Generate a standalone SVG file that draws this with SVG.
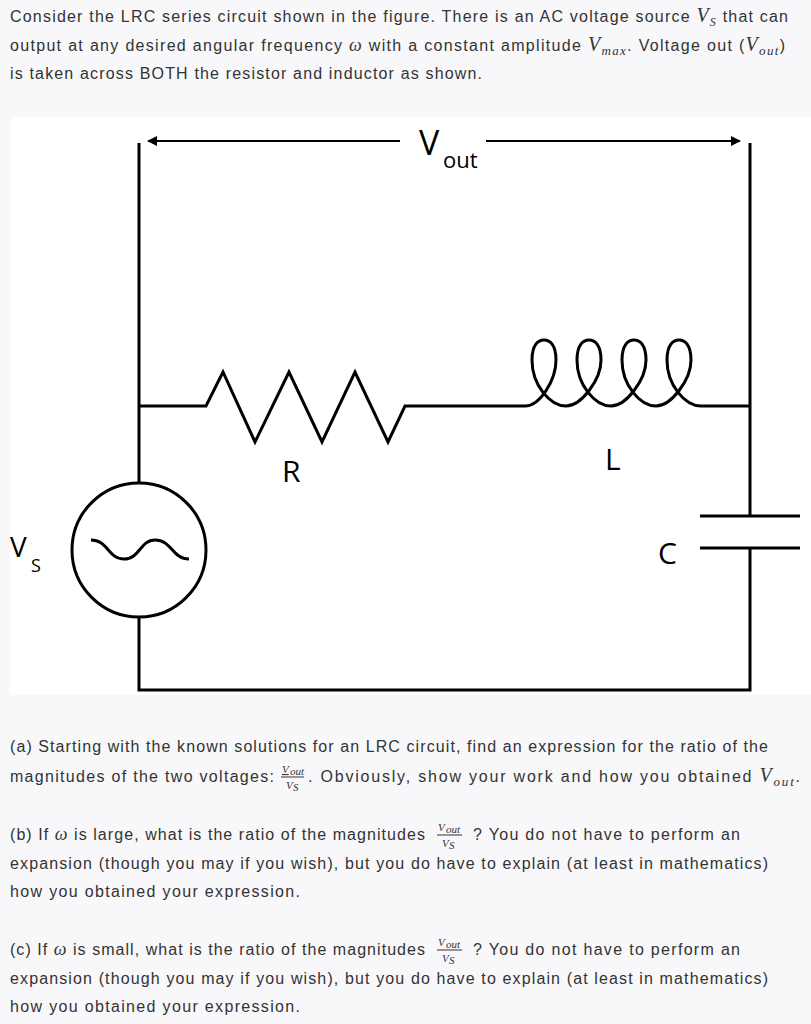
<svg xmlns="http://www.w3.org/2000/svg" width="811" height="1024" viewBox="0 0 811 1024">
<style>
.t{font-family:"Liberation Sans",Arial,sans-serif;font-size:16px;fill:#333}
.m{font-family:"Liberation Serif",serif;font-style:italic}
.lb{font-family:"Open Sans","DejaVu Sans",sans-serif;fill:#000}
.w{fill:none;stroke:#000;stroke-width:3}
.fr{font-family:"Liberation Serif",serif;font-style:italic;font-size:11px;fill:#333}
</style>
<defs><marker id="ah" markerWidth="10" markerHeight="10" refX="9" refY="5" orient="auto" markerUnits="userSpaceOnUse"><path d="M0,0 L10,5 L0,10 Z" fill="#000"/></marker></defs>
<rect width="811" height="1024" fill="#f8f8fa"/>
<rect x="10" y="117" width="801" height="578" fill="#fff"/>
<text class="t" y="22" textLength="778" lengthAdjust="spacing"><tspan x="10">Consider the LRC series circuit shown in the figure. There is an AC voltage source </tspan><tspan class="m" font-size="20">V</tspan><tspan class="m" font-size="12" dy="4">S</tspan><tspan dy="-4"> that can</tspan></text>
<text class="t" y="51" textLength="775" lengthAdjust="spacing"><tspan x="10">output at any desired angular frequency </tspan><tspan class="m" font-size="18">ω</tspan><tspan> with a constant amplitude </tspan><tspan class="m" font-size="20">V</tspan><tspan class="m" font-size="13" dy="4">max</tspan><tspan dy="-4">. Voltage out (</tspan><tspan class="m" font-size="20">V</tspan><tspan class="m" font-size="13" dy="4">out</tspan><tspan dy="-4">)</tspan></text>
<text class="t" x="10" y="79" textLength="472" lengthAdjust="spacing">is taken across BOTH the resistor and inductor as shown.</text>
<g id="connectors">
<path class="w" d="M139,143 V483 M139,617 V690 H750 V548 M750,143 V516 M139,406 H206 L223,372 L255,442 L289,372 L322,442 L355,372 L388,442 L405,406 H525 M701,406 H750"/>
<line x1="400" y1="141" x2="148" y2="141" stroke="#000" stroke-width="2" marker-end="url(#ah)"/>
<line x1="486" y1="141" x2="740" y2="141" stroke="#000" stroke-width="2" marker-end="url(#ah)"/>
</g>
<g id="inductor"><path class="w" d="M525,406 C540,406 556,380 556,360 C556,345 550,340 544,340 C538,340 532,345 532,360 C532,385 550,406 566,406 C581,406 601,380 601,360 C601,345 595,340 589,340 C583,340 577,345 577,360 C577,385 595,406 611,406 C626,406 646,380 646,360 C646,345 640,340 634,340 C628,340 622,345 622,360 C622,385 640,406 656,406 C671,406 691,380 691,360 C691,345 685,340 679,340 C673,340 667,345 667,360 C667,385 685,406 701,406"/>
<text class="lb" x="605" y="470" font-size="30">L</text></g>
<g id="resistor"><text class="lb" x="282" y="482" font-size="30">R</text></g>
<g id="source"><circle class="w" cx="139" cy="550" r="67"/><path class="w" d="M91,540 C108,540 108,559 124,559 C140,559 140,540 155,540 C172,540 172,559 189,559"/>
<text class="lb" x="10" y="557" font-size="28">V</text><text class="lb" x="31" y="572" font-size="18">S</text></g>
<g id="capacitor"><path class="w" d="M700,516 H800 M700,548 H800"/><text class="lb" x="658" y="564" font-size="30">C</text></g>
<g id="vout"><text class="lb" x="419" y="155" font-size="34">V</text><text class="lb" x="443" y="168" font-size="22">out</text></g>
<text class="t" x="10" y="752" textLength="758" lengthAdjust="spacing">(a) Starting with the known solutions for an LRC circuit, find an expression for the ratio of the</text>
<text class="t" x="10" y="782" textLength="264" lengthAdjust="spacing">magnitudes of the two voltages:</text>
<g><text class="fr" x="282" y="773" text-decoration="underline">V</text><text class="fr" x="290" y="775" font-size="8">out</text><line x1="281" y1="777" x2="304" y2="777" stroke="#333"/><text class="fr" x="286" y="789">V</text><text class="fr" x="293" y="791" font-size="8">S</text></g>
<text class="t" y="782" textLength="492" lengthAdjust="spacing"><tspan x="308">. Obviously, show your work and how you obtained </tspan><tspan class="m" font-size="20">V</tspan><tspan class="m" font-size="13" dy="4">out</tspan><tspan dy="-4">.</tspan></text>
<text class="t" x="10" y="840" textLength="415" lengthAdjust="spacing">(b) If <tspan class="m" font-size="18">ω</tspan> is large, what is the ratio of the magnitudes</text>
<g><text class="fr" x="438" y="831">V</text><text class="fr" x="446" y="833" font-size="8">out</text><line x1="437" y1="835" x2="462" y2="835" stroke="#333"/><text class="fr" x="442" y="847">V</text><text class="fr" x="449" y="849" font-size="8">S</text></g>
<text class="t" x="473" y="840" textLength="267" lengthAdjust="spacing">? You do not have to perform an</text>
<text class="t" x="10" y="869" textLength="758" lengthAdjust="spacing">expansion (though you may if you wish), but you do have to explain (at least in mathematics)</text>
<text class="t" x="10" y="897" textLength="290" lengthAdjust="spacing">how you obtained your expression.</text>
<text class="t" x="10" y="955" textLength="415" lengthAdjust="spacing">(c) If <tspan class="m" font-size="18">ω</tspan> is small, what is the ratio of the magnitudes</text>
<g><text class="fr" x="438" y="946">V</text><text class="fr" x="446" y="948" font-size="8">out</text><line x1="437" y1="950" x2="462" y2="950" stroke="#333"/><text class="fr" x="442" y="962">V</text><text class="fr" x="449" y="964" font-size="8">S</text></g>
<text class="t" x="473" y="955" textLength="267" lengthAdjust="spacing">? You do not have to perform an</text>
<text class="t" x="10" y="984" textLength="758" lengthAdjust="spacing">expansion (though you may if you wish), but you do have to explain (at least in mathematics)</text>
<text class="t" x="10" y="1012" textLength="290" lengthAdjust="spacing">how you obtained your expression.</text>
</svg>
